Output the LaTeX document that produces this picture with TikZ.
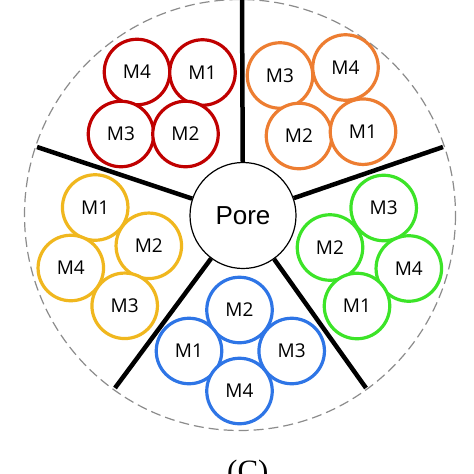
\documentclass[tikz,border=0pt]{standalone}
\usepackage{fontspec}
\newfontfamily\labf{Open Sans}
\newfontfamily\arialf{Liberation Sans}
\newfontfamily\timesf{Liberation Serif}
\definecolor{cred}{RGB}{192,0,0}
\definecolor{corange}{RGB}{237,125,49}
\definecolor{cgreen}{RGB}{60,228,40}
\definecolor{cblue}{RGB}{46,117,230}
\definecolor{cyellow}{RGB}{240,183,30}
\definecolor{cgray}{RGB}{140,140,140}
\begin{document}
\begin{tikzpicture}[x=1pt,y=-1pt,
  mod/.style={circle, draw=#1, line width=3.2pt, fill=white, minimum size=65.5pt, inner sep=0pt,
    font=\labf\fontsize{19}{19}\selectfont},
  porenode/.style={circle, draw=black, line width=1.2pt, fill=white, minimum size=106pt, inner sep=0pt,
    font=\arialf\fontsize{26}{26}\selectfont},
  spoke/.style={line width=4.5pt, black},
  outer/.style={cgray, line width=1.2pt, dash pattern=on 10pt off 5pt}]
\useasboundingbox (0,0) rectangle (474,474);
\fill[white] (0,0) rectangle (474,474);
\draw[outer] (240,215) circle[radius=215.5];
% coordinates of spoke ends
\coordinate (e1) at (242,0);
\coordinate (e2) at (37,147);
\coordinate (e3) at (443,147);
\coordinate (e4) at (115,388);
\coordinate (e5) at (366,388);
\node[porenode] (pore) at (243,215.5) {Pore};
\foreach \e in {e1,e2,e3,e4,e5} \draw[spoke] (pore) -- (\e);
% red
\node[mod=cred] (r4) at (137,72) {M4};
\node[mod=cred] (r1) at (202.5,72.5) {M1};
\node[mod=cred] (r3) at (121,134) {M3};
\node[mod=cred] (r2) at (185.5,134) {M2};
% orange
\node[mod=corange] (o3) at (280,75.5) {M3};
\node[mod=corange] (o4) at (345.5,67.5) {M4};
\node[mod=corange] (o2) at (299,136) {M2};
\node[mod=corange] (o1) at (363,131.7) {M1};
% green
\node[mod=cgreen] (g3) at (383.7,208) {M3};
\node[mod=cgreen] (g2) at (330,247.5) {M2};
\node[mod=cgreen] (g4) at (408.8,268.5) {M4};
\node[mod=cgreen] (g1) at (357,306) {M1};
% blue
\node[mod=cblue] (b2) at (239.5,310) {M2};
\node[mod=cblue] (b1) at (189,351) {M1};
\node[mod=cblue] (b3) at (291.7,351) {M3};
\node[mod=cblue] (b4) at (239.5,391) {M4};
% yellow
\node[mod=cyellow] (y1) at (95.2,207.5) {M1};
\node[mod=cyellow] (y2) at (148.8,245.8) {M2};
\node[mod=cyellow] (y4) at (70.8,268) {M4};
\node[mod=cyellow] (y3) at (124.7,305.8) {M3};
% caption
\node[anchor=base west, inner sep=0pt, font=\timesf\fontsize{31}{31}\selectfont] (cap) at (227,481) {(C)};
\end{tikzpicture}
\end{document}
